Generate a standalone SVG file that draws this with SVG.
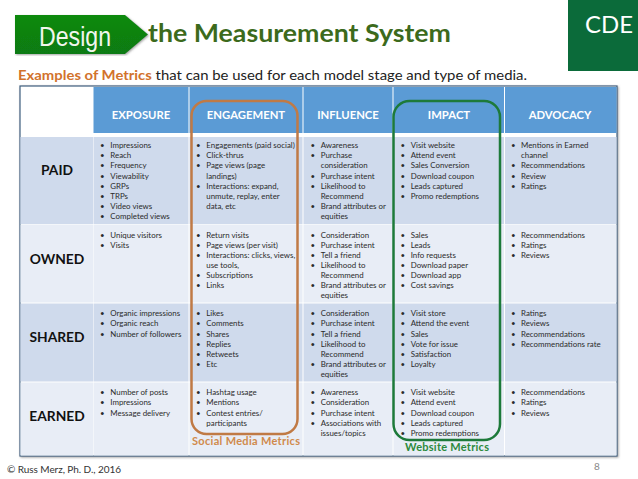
<svg xmlns="http://www.w3.org/2000/svg" width="638" height="479" viewBox="0 0 638 479">
<defs>
<style>
text{font-family:Lato,"Liberation Sans",sans-serif}
.h{font-size:11.300px;font-weight:700;fill:#fff;text-anchor:middle}
.r{font-size:13.800px;font-weight:700;fill:#111;text-anchor:middle}
.t{font-size:7.900px;fill:#2b2b2b}
.d{fill:#cfdaec}.l{fill:#e8edf6}.b{fill:#5b9bd5}
</style>
<filter id="sh" x="-3%" y="-3%" width="106%" height="106%"><feDropShadow dx="1" dy="1" stdDeviation="1" flood-color="#666" flood-opacity=".6"/></filter>
<linearGradient id="ga" x1="0" y1="0" x2="0" y2="1"><stop offset="0" stop-color="#0a8a10"/><stop offset="1" stop-color="#0c7a12"/></linearGradient>
</defs>
<rect width="638" height="479" fill="#fff"/>
<g id="design-banner">
<polygon points="15,15 125,15 148,34.500 125,54 15,54" fill="url(#ga)" filter="url(#sh)"/>
<text x="39" y="46" font-size="27" fill="#f2f6ee" textLength="72" lengthAdjust="spacingAndGlyphs" style="font-family:'Liberation Sans',sans-serif">Design</text>
</g>
<text id="title" x="148" y="42" font-size="25" font-weight="700" fill="#3c6a1c" textLength="303" lengthAdjust="spacingAndGlyphs">the Measurement System</text>
<g id="cde-logo">
<rect x="568" y="0" width="70" height="71" fill="#0b6b3a"/>
<text x="609" y="33" font-size="24" fill="#fff" text-anchor="middle" textLength="48" lengthAdjust="spacingAndGlyphs">CDE</text>
</g>
<text id="subtitle" x="18" y="80" font-size="14" fill="#222" textLength="509" lengthAdjust="spacingAndGlyphs"><tspan font-weight="700" fill="#d2722c">Examples of Metrics</tspan> that can be used for each model stage and type of media.</text>
<g id="table">
<rect x="20" y="86" width="597" height="370" fill="#fff" stroke="#3f5f7f" stroke-width="1.200" filter="url(#sh)"/>
<g id="header-row">
<rect class="b" x="93.500" y="87" width="95" height="46"/><rect class="b" x="189.500" y="87" width="113" height="46"/><rect class="b" x="303.500" y="87" width="89" height="46"/><rect class="b" x="393.500" y="87" width="110.500" height="46"/><rect class="b" x="505" y="87" width="111.500" height="46"/>
<text class="h" x="141" y="119">EXPOSURE</text><text class="h" x="246" y="119">ENGAGEMENT</text><text class="h" x="348" y="119">INFLUENCE</text><text class="h" x="449" y="119">IMPACT</text><text class="h" x="560" y="119">ADVOCACY</text>
</g>
<g id="row-paid">
<rect class="d" x="20.500" y="137" width="72.500" height="87"/><rect class="d" x="93.500" y="137" width="95" height="87"/><rect class="d" x="189.500" y="137" width="113" height="87"/><rect class="d" x="303.500" y="137" width="89" height="87"/><rect class="d" x="393.500" y="137" width="110.500" height="87"/><rect class="d" x="505" y="137" width="111.500" height="87"/>
<text class="r" x="57" y="174.500">PAID</text>
<text class="t" x="100" y="148">•</text><text class="t" x="110.300" y="148">Impressions</text><text class="t" x="100" y="158">•</text><text class="t" x="110.300" y="158">Reach</text><text class="t" x="100" y="168">•</text><text class="t" x="110.300" y="168">Frequency</text><text class="t" x="100" y="178.500">•</text><text class="t" x="110.300" y="178.500">Viewability</text><text class="t" x="100" y="188.500">•</text><text class="t" x="110.300" y="188.500">GRPs</text><text class="t" x="100" y="198.500">•</text><text class="t" x="110.300" y="198.500">TRPs</text><text class="t" x="100" y="209">•</text><text class="t" x="110.300" y="209">Video views</text><text class="t" x="100" y="219">•</text><text class="t" x="110.300" y="219">Completed views</text>
<text class="t" x="196" y="148">•</text><text class="t" x="206.300" y="148">Engagements (paid social)</text><text class="t" x="196" y="158">•</text><text class="t" x="206.300" y="158">Click-thrus</text><text class="t" x="196" y="168">•</text><text class="t" x="206.300" y="168">Page views (page</text><text class="t" x="206.300" y="178.500">landings)</text><text class="t" x="196" y="188.500">•</text><text class="t" x="206.300" y="188.500">Interactions: expand,</text><text class="t" x="206.300" y="198.500">unmute, replay, enter</text><text class="t" x="206.300" y="209">data, etc</text>
<text class="t" x="310.500" y="148">•</text><text class="t" x="320.700" y="148">Awareness</text><text class="t" x="310.500" y="158">•</text><text class="t" x="320.700" y="158">Purchase</text><text class="t" x="320.700" y="168">consideration</text><text class="t" x="310.500" y="178.500">•</text><text class="t" x="320.700" y="178.500">Purchase intent</text><text class="t" x="310.500" y="188.500">•</text><text class="t" x="320.700" y="188.500">Likelihood to</text><text class="t" x="320.700" y="198.500">Recommend</text><text class="t" x="310.500" y="209">•</text><text class="t" x="320.700" y="209">Brand attributes or</text><text class="t" x="320.700" y="219">equities</text>
<text class="t" x="400.500" y="148">•</text><text class="t" x="410.700" y="148">Visit website</text><text class="t" x="400.500" y="158">•</text><text class="t" x="410.700" y="158">Attend event</text><text class="t" x="400.500" y="168">•</text><text class="t" x="410.700" y="168">Sales Conversion</text><text class="t" x="400.500" y="178.500">•</text><text class="t" x="410.700" y="178.500">Download coupon</text><text class="t" x="400.500" y="188.500">•</text><text class="t" x="410.700" y="188.500">Leads captured</text><text class="t" x="400.500" y="198.500">•</text><text class="t" x="410.700" y="198.500">Promo redemptions</text>
<text class="t" x="511" y="148">•</text><text class="t" x="521" y="148">Mentions in Earned</text><text class="t" x="521" y="158">channel</text><text class="t" x="511" y="168">•</text><text class="t" x="521" y="168">Recommendations</text><text class="t" x="511" y="178.500">•</text><text class="t" x="521" y="178.500">Review</text><text class="t" x="511" y="188.500">•</text><text class="t" x="521" y="188.500">Ratings</text>
</g>
<g id="row-owned">
<rect class="l" x="20.500" y="224.500" width="72.500" height="78"/><rect class="l" x="93.500" y="224.500" width="95" height="78"/><rect class="l" x="189.500" y="224.500" width="113" height="78"/><rect class="l" x="303.500" y="224.500" width="89" height="78"/><rect class="l" x="393.500" y="224.500" width="110.500" height="78"/><rect class="l" x="505" y="224.500" width="111.500" height="78"/>
<text class="r" x="57" y="263.500">OWNED</text>
<text class="t" x="100" y="237.500">•</text><text class="t" x="110.300" y="237.500">Unique visitors</text><text class="t" x="100" y="247.500">•</text><text class="t" x="110.300" y="247.500">Visits</text>
<text class="t" x="196" y="237.500">•</text><text class="t" x="206.300" y="237.500">Return visits</text><text class="t" x="196" y="247.500">•</text><text class="t" x="206.300" y="247.500">Page views (per visit)</text><text class="t" x="196" y="257.500">•</text><text class="t" x="206.300" y="257.500">Interactions: clicks, views,</text><text class="t" x="206.300" y="268">use tools,</text><text class="t" x="196" y="278">•</text><text class="t" x="206.300" y="278">Subscriptions</text><text class="t" x="196" y="288">•</text><text class="t" x="206.300" y="288">Links</text>
<text class="t" x="310.500" y="237.500">•</text><text class="t" x="320.700" y="237.500">Consideration</text><text class="t" x="310.500" y="247.500">•</text><text class="t" x="320.700" y="247.500">Purchase intent</text><text class="t" x="310.500" y="257.500">•</text><text class="t" x="320.700" y="257.500">Tell a friend</text><text class="t" x="310.500" y="268">•</text><text class="t" x="320.700" y="268">Likelihood to</text><text class="t" x="320.700" y="278">Recommend</text><text class="t" x="310.500" y="288">•</text><text class="t" x="320.700" y="288">Brand attributes or</text><text class="t" x="320.700" y="298">equities</text>
<text class="t" x="400.500" y="237.500">•</text><text class="t" x="410.700" y="237.500">Sales</text><text class="t" x="400.500" y="247.500">•</text><text class="t" x="410.700" y="247.500">Leads</text><text class="t" x="400.500" y="257.500">•</text><text class="t" x="410.700" y="257.500">Info requests</text><text class="t" x="400.500" y="268">•</text><text class="t" x="410.700" y="268">Download paper</text><text class="t" x="400.500" y="278">•</text><text class="t" x="410.700" y="278">Download app</text><text class="t" x="400.500" y="288">•</text><text class="t" x="410.700" y="288">Cost savings</text>
<text class="t" x="511" y="237.500">•</text><text class="t" x="521" y="237.500">Recommendations</text><text class="t" x="511" y="247.500">•</text><text class="t" x="521" y="247.500">Ratings</text><text class="t" x="511" y="257.500">•</text><text class="t" x="521" y="257.500">Reviews</text>
</g>
<g id="row-shared">
<rect class="d" x="20.500" y="303.500" width="72.500" height="78"/><rect class="d" x="93.500" y="303.500" width="95" height="78"/><rect class="d" x="189.500" y="303.500" width="113" height="78"/><rect class="d" x="303.500" y="303.500" width="89" height="78"/><rect class="d" x="393.500" y="303.500" width="110.500" height="78"/><rect class="d" x="505" y="303.500" width="111.500" height="78"/>
<text class="r" x="57" y="342">SHARED</text>
<text class="t" x="100" y="316">•</text><text class="t" x="110.300" y="316">Organic impressions</text><text class="t" x="100" y="326">•</text><text class="t" x="110.300" y="326">Organic reach</text><text class="t" x="100" y="336.500">•</text><text class="t" x="110.300" y="336.500">Number of followers</text>
<text class="t" x="196" y="316">•</text><text class="t" x="206.300" y="316">Likes</text><text class="t" x="196" y="326">•</text><text class="t" x="206.300" y="326">Comments</text><text class="t" x="196" y="336.500">•</text><text class="t" x="206.300" y="336.500">Shares</text><text class="t" x="196" y="346.500">•</text><text class="t" x="206.300" y="346.500">Replies</text><text class="t" x="196" y="356.500">•</text><text class="t" x="206.300" y="356.500">Retweets</text><text class="t" x="196" y="367">•</text><text class="t" x="206.300" y="367">Etc</text>
<text class="t" x="310.500" y="316">•</text><text class="t" x="320.700" y="316">Consideration</text><text class="t" x="310.500" y="326">•</text><text class="t" x="320.700" y="326">Purchase intent</text><text class="t" x="310.500" y="336.500">•</text><text class="t" x="320.700" y="336.500">Tell a friend</text><text class="t" x="310.500" y="346.500">•</text><text class="t" x="320.700" y="346.500">Likelihood to</text><text class="t" x="320.700" y="356.500">Recommend</text><text class="t" x="310.500" y="367">•</text><text class="t" x="320.700" y="367">Brand attributes or</text><text class="t" x="320.700" y="377">equities</text>
<text class="t" x="400.500" y="316">•</text><text class="t" x="410.700" y="316">Visit store</text><text class="t" x="400.500" y="326">•</text><text class="t" x="410.700" y="326">Attend the event</text><text class="t" x="400.500" y="336.500">•</text><text class="t" x="410.700" y="336.500">Sales</text><text class="t" x="400.500" y="346.500">•</text><text class="t" x="410.700" y="346.500">Vote for issue</text><text class="t" x="400.500" y="356.500">•</text><text class="t" x="410.700" y="356.500">Satisfaction</text><text class="t" x="400.500" y="367">•</text><text class="t" x="410.700" y="367">Loyalty</text>
<text class="t" x="511" y="316">•</text><text class="t" x="521" y="316">Ratings</text><text class="t" x="511" y="326">•</text><text class="t" x="521" y="326">Reviews</text><text class="t" x="511" y="336.500">•</text><text class="t" x="521" y="336.500">Recommendations</text><text class="t" x="511" y="346.500">•</text><text class="t" x="521" y="346.500">Recommendations rate</text>
</g>
<g id="row-earned">
<rect class="l" x="20.500" y="382.500" width="72.500" height="73"/><rect class="l" x="93.500" y="382.500" width="95" height="73"/><rect class="l" x="189.500" y="382.500" width="113" height="73"/><rect class="l" x="303.500" y="382.500" width="89" height="73"/><rect class="l" x="393.500" y="382.500" width="110.500" height="73"/><rect class="l" x="505" y="382.500" width="111.500" height="73"/>
<text class="r" x="57" y="421">EARNED</text>
<text class="t" x="100" y="395">•</text><text class="t" x="110.300" y="395">Number of posts</text><text class="t" x="100" y="405">•</text><text class="t" x="110.300" y="405">Impressions</text><text class="t" x="100" y="415.500">•</text><text class="t" x="110.300" y="415.500">Message delivery</text>
<text class="t" x="196" y="395">•</text><text class="t" x="206.300" y="395">Hashtag usage</text><text class="t" x="196" y="405">•</text><text class="t" x="206.300" y="405">Mentions</text><text class="t" x="196" y="415.500">•</text><text class="t" x="206.300" y="415.500">Contest entries/</text><text class="t" x="206.300" y="425.500">participants</text>
<text class="t" x="310.500" y="395">•</text><text class="t" x="320.700" y="395">Awareness</text><text class="t" x="310.500" y="405">•</text><text class="t" x="320.700" y="405">Consideration</text><text class="t" x="310.500" y="415.500">•</text><text class="t" x="320.700" y="415.500">Purchase intent</text><text class="t" x="310.500" y="425.500">•</text><text class="t" x="320.700" y="425.500">Associations with</text><text class="t" x="320.700" y="435.500">issues/topics</text>
<text class="t" x="400.500" y="395">•</text><text class="t" x="410.700" y="395">Visit website</text><text class="t" x="400.500" y="405">•</text><text class="t" x="410.700" y="405">Attend event</text><text class="t" x="400.500" y="415.500">•</text><text class="t" x="410.700" y="415.500">Download coupon</text><text class="t" x="400.500" y="425.500">•</text><text class="t" x="410.700" y="425.500">Leads captured</text><text class="t" x="400.500" y="435.500">•</text><text class="t" x="410.700" y="435.500">Promo redemptions</text>
<text class="t" x="511" y="395">•</text><text class="t" x="521" y="395">Recommendations</text><text class="t" x="511" y="405">•</text><text class="t" x="521" y="405">Ratings</text><text class="t" x="511" y="415.500">•</text><text class="t" x="521" y="415.500">Reviews</text>
</g>
</g>
<g id="callouts" fill="none" stroke-width="2.500">
<rect id="social-media-box" x="191.500" y="101" width="106" height="333" rx="15" stroke="#c07a45"/>
<rect id="website-box" x="393.500" y="101" width="106.500" height="339" rx="16" stroke="#1d7a3a"/>
</g>
<text id="social-label" x="246" y="445" font-size="11" font-weight="700" fill="#d08a4c" text-anchor="middle" textLength="108" lengthAdjust="spacing">Social Media Metrics</text>
<text id="website-label" x="447" y="451" font-size="11" font-weight="700" fill="#2c8a3c" text-anchor="middle" textLength="84" lengthAdjust="spacing">Website Metrics</text>
<text id="copyright" x="7" y="473" font-size="10" fill="#333" textLength="114" lengthAdjust="spacing">©  Russ Merz, Ph. D., 2016</text>
<text id="page" x="597" y="470" font-size="10" fill="#888" text-anchor="middle">8</text>
</svg>
